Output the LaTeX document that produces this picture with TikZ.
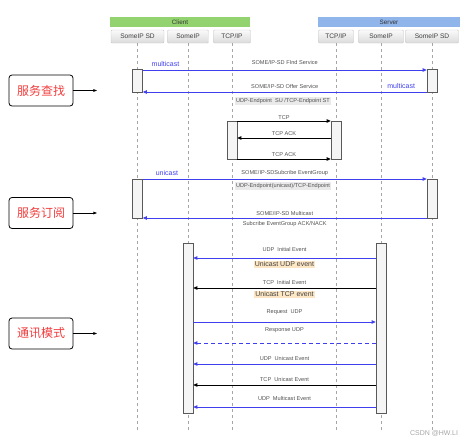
\documentclass[tikz,border=0pt]{standalone}
\usepackage{fontspec}
\setmainfont{Liberation Sans}
\newfontfamily\cjk{Noto Sans CJK SC}
\usetikzlibrary{arrows.meta,positioning,calc}
\definecolor{msgblue}{HTML}{3F3FEF}
\definecolor{clientgreen}{HTML}{93D36F}
\definecolor{serverblue}{HTML}{8FB5EA}
\definecolor{labelgray}{HTML}{505050}
\definecolor{notebg}{HTML}{EAEAEA}
\definecolor{eventbg}{HTML}{FCE6C4}
\definecolor{phasered}{HTML}{F03C3C}

\begin{document}
\begin{tikzpicture}[x=1pt,y=-1pt,font=\fontsize{5.6}{6}\selectfont,
  group/.style={minimum height=10pt,inner sep=0pt,font=\fontsize{6.3}{7}\selectfont,text=black!80},
  part/.style={draw=gray!45,top color=gray!4,bottom color=gray!28,rounded corners=1pt,
               minimum height=13pt,inner sep=0pt,font=\fontsize{6.6}{7}\selectfont,text=black!75},
  life/.style={gray!70,dash pattern=on 3pt off 3pt,line width=0.5pt},
  act/.style={draw=black!65,fill=gray!8,minimum width=10pt,inner sep=0pt,line width=0.6pt},
  msg/.style={-{Triangle[length=4pt,width=3.5pt]},line width=0.8pt},
  umsg/.style={msg,msgblue},
  lbl/.style={text=labelgray,inner sep=1pt},
  cast/.style={text=msgblue,font=\fontsize{7}{8}\selectfont,inner sep=1pt},
  note/.style={fill=notebg,text=labelgray,inner sep=1pt},
  evt/.style={fill=eventbg,text=black!75,font=\fontsize{7}{8}\selectfont,inner sep=1pt},
  phase/.style={draw,rounded corners=3pt,line width=0.8pt,text=phasered,minimum width=64pt,
                minimum height=31pt,inner sep=0pt,font=\cjk\fontsize{12}{14}\selectfont},
  tag/.style={-{Latex[length=4pt]},line width=0.7pt}]
\useasboundingbox (0,0) rectangle (474,445);

\node[group,fill=clientgreen,minimum width=140pt] (client) at (180,22) {Client};
\node[group,fill=serverblue,minimum width=142pt] (server) at (389,22) {Server};
\node[part,minimum width=53pt] (cSD) at (137.5,36.5) {SomeIP SD};
\node[part,minimum width=41pt] (cIP) at (188,36.5) {SomeIP};
\node[part,minimum width=37pt] (cTCP) at (232,36.5) {TCP/IP};
\node[part,minimum width=35pt] (sTCP) at (336,36.5) {TCP/IP};
\node[part,minimum width=45pt] (sIP) at (381,36.5) {SomeIP};
\node[part,minimum width=53pt] (sSD) at (432,36.5) {SomeIP SD};
\foreach \p in {cSD,cIP,cTCP,sTCP,sIP,sSD}
  \draw[life] (\p.south) -- (\p.south |- 0,432);

\node[act,minimum height=23pt] (f1) at (cSD.south |- 0,80.5) {};
\node[act,minimum height=23pt] (f2) at (sSD.south |- 0,80.5) {};
\draw[umsg] (f1.east |- 0,70) -- node[lbl,above=4.5pt]{SOME/IP-SD FInd Service}
  node[cast,pos=0.08,above=2.5pt]{multicast} (f2.west |- 0,70);
\draw[umsg] (f2.west |- 0,92) -- node[lbl,above=2.5pt]{SOME/IP-SD Offer Service}
  node[cast,pos=0.09,above=2pt]{multicast} (f1.east |- 0,92);
\node[note] (ep1) at (283,101) {UDP-Endpoint\ \ SU /TCP-Endpoint ST};

\node[act,minimum height=38pt] (t1) at (cTCP.south |- 0,140) {};
\node[act,minimum height=38pt] (t2) at (sTCP.south |- 0,140) {};
\draw[msg] (t1.east |- 0,121) -- node[lbl,above=0pt]{TCP} (t2.west |- 0,121);
\draw[msg] (t2.west |- 0,138) -- node[lbl,above=1pt]{TCP ACK} (t1.east |- 0,138);
\draw[msg] (t1.east |- 0,159) -- node[lbl,above=1pt]{TCP ACK} (t2.west |- 0,159);

\node[act,minimum height=39pt] (s1) at (cSD.south |- 0,198.5) {};
\node[act,minimum height=39pt] (s2) at (sSD.south |- 0,198.5) {};
\draw[umsg] (s1.east |- 0,179) -- node[lbl,above=1.5pt]{SOME/IP-SDSubcribe EventGroup}
  node[cast,pos=0.085,above=2pt]{unicast} (s2.west |- 0,179);
\node[note] (ep2) at (283,186) {UDP-Endpoint(unicast)/TCP-Endpoint};
\draw[umsg] (s2.west |- 0,218) -- node[lbl,above=1.5pt]{SOME/IP-SD Multicast}
  node[lbl,below=2pt]{Subcribe EventGroup ACK/NACK} (s1.east |- 0,218);

\node[act,minimum height=170pt] (e1) at (cIP.south |- 0,328) {};
\node[act,minimum height=170pt] (e2) at (sIP.south |- 0,328) {};
\draw[umsg] (e2.west |- 0,258) -- node[lbl,above=5.5pt]{UDP\ \ Initial Event}
  node[evt,below=2.5pt]{Unicast UDP event} (e1.east |- 0,258);
\draw[msg] (e2.west |- 0,288) -- node[lbl,above=2.5pt]{TCP\ \ Initial Event}
  node[evt,below=2.5pt]{Unicast TCP event} (e1.east |- 0,288);
\draw[umsg] (e1.east |- 0,322) -- node[lbl,above=5.5pt]{Request\ \ UDP} (e2.west |- 0,322);
\draw[umsg,dash pattern=on 4pt off 3pt] (e2.west |- 0,343) -- node[lbl,above=8.5pt]{Response UDP}
  (e1.east |- 0,343);
\draw[umsg] (e2.west |- 0,364) -- node[lbl,above=2.5pt]{UDP\ \ Unicast Event} (e1.east |- 0,364);
\draw[msg] (e2.west |- 0,385) -- node[lbl,above=2.5pt]{TCP\ \ Unicast Event} (e1.east |- 0,385);
\draw[umsg] (e2.west |- 0,407) -- node[lbl,above=5.5pt]{UDP\ \ Multicast Event} (e1.east |- 0,407);

\node[phase] (find) at (41,90.5) {服务查找};
\node[phase] (sub) at (41,213) {服务订阅};
\node[phase] (comm) at (41,333.5) {通讯模式};
\coordinate[right=24pt of find.east] (findtip);
\coordinate[right=24pt of sub.east] (subtip);
\coordinate[right=24pt of comm.east] (commtip);
\draw[tag] (find) -- (findtip);
\draw[tag] (sub) -- (subtip);
\draw[tag] (comm) -- (commtip);

\node[text=gray!70,font=\fontsize{7}{8}\selectfont] (mark) at (434,433) {CSDN @HW.LI};
\end{tikzpicture}
\end{document}
